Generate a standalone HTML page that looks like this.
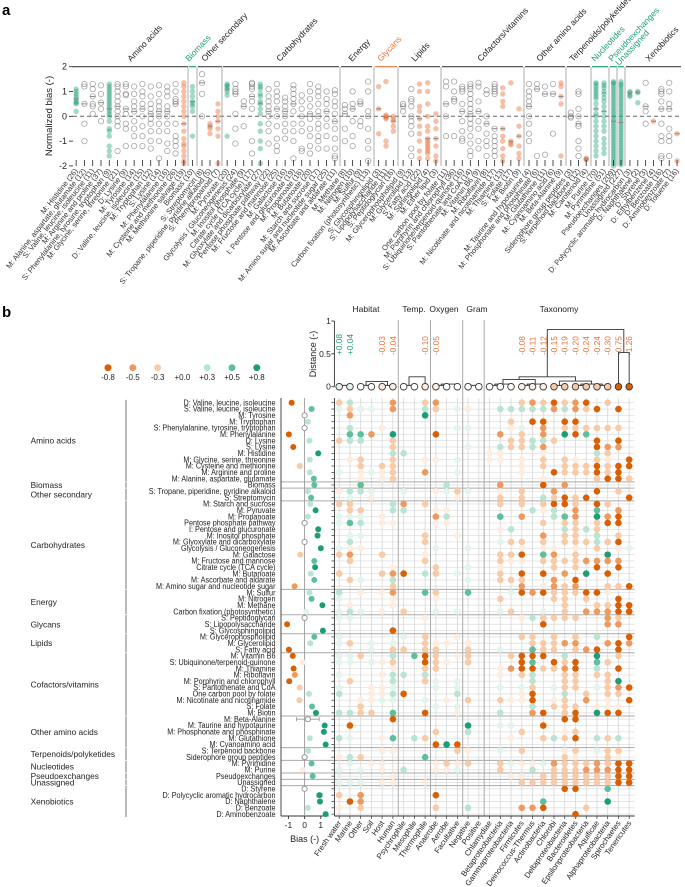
<!DOCTYPE html>
<html><head><meta charset="utf-8">
<style>
html,body{margin:0;padding:0;background:#fff;}
svg{display:block;font-family:"Liberation Sans",Arial,sans-serif;}
</style></head>
<body>
<svg id="fig" width="685" height="887" viewBox="0 0 685 887" xmlns="http://www.w3.org/2000/svg">
<text x="2" y="15" font-size="15" font-weight="bold">a</text>
<text x="2" y="317" font-size="15" font-weight="bold">b</text>
</svg>
<script>
// ===== Panel a data =====
const paGroupNames = ["Amino acids","Biomass","Other secondary","Carbohydrates","Energy","Glycans","Lipids","Cofactors/vitamins","Other amino acids","Terpenoids/polyketides","Nucleotides","Pseudoexchanges","Unassigned","Xenobiotics"];
const paGroupCounts = [14,1,3,14,4,3,5,10,5,3,2,1,1,7];
const paGroupColor = ["k","t","k","k","k","o","k","k","k","k","t","t","t","k"];
const paTypes = "tgggtggggggggo"+"t"+"goo"+"tgggtggggggggg"+"gggg"+"ooo"+"ggooo"+"gggggggooo"+"ggggo"+"ggo"+"tt"+"t"+"t"+"ttgoggo";
const paLabels = ["M: Histidine (26)","M: Alanine, aspartate, glutamate (12)","S: Valine, leucine, isoleucine (11)","M: Arginine and proline (37)","S: Phenylalanine, tyrosine, tryptophan (9)","M: Glycine, serine, threonine (21)","D: Lysine (9)","M: Tyrosine (14)","D: Valine, leucine, isoleucine (15)","M: Tryptophan (12)","S: Lysine (14)","M: Phenylalanine (16)","M: Cysteine and methionine (26)","M: Methionine salvage (19)",
"Biomass (10)",
"S: Streptomycin (8)","S: Tropane, piperidine, pyridine alkaloid (5)","S: Phenylpropanoid (7)",
"M: Pyruvate (20)","Glycolysis / Gluconeogenesis (24)","M: Inositol phosphate (9)","Citrate cycle (TCA cycle) (17)","M: Glyoxylate and dicarboxylate (27)","Pentose phosphate pathway (22)","M: Fructose and mannose (25)","M: Galactose (16)","I: Pentose and glucuronate (19)","M: Propanoate (16)","M: Butanoate (20)","M: Starch and sucrose (17)","M: Amino sugar and nucleotide sugar (25)","M: Ascorbate and aldarate (11)",
"M: Methane (8)","M: Nitrogen (10)","M: Sulfur (9)","Carbon fixation (photosynthetic) (13)",
"S: Glycosphingolipid (3)","S: Lipopolysaccharide (11)","S: Peptidoglycan (16)",
"M: Glycerophospholipid (9)","M: Glycerolipid (13)","S: Fatty acid (22)","M: Sphingolipid (4)","M: Ether lipid (3)",
"One carbon pool by folate (11)","M: Porphyrin and chlorophyll (36)","S: Ubiquinone/terpenoid-quinone (16)","S: Pantothenate and CoA (14)","M: Vitamin B6 (9)","M: Riboflavin (8)","M: Nicotinate and nicotinamide (17)","M: Thiamine (13)","S: Folate (17)","M: Biotin (9)",
"M: Taurine and hypotaurine (4)","M: Phosphonate and phosphinate (6)","M: Glutathione (11)","M: Cyanoamino acid (6)","M: Beta-Alanine (9)",
"Siderophore group peptides (3)","S: Terpenoid backbone (12)","M: Carotenoid (4)",
"M: Purine (70)","M: Pyrimidine (51)",
"Pseudoexchanges (209)","Unassigned (227)",
"D: Polycyclic aromatic hydrocarbon (3)","D: Naphthalene (2)","D: Styrene (3)","D: Ethylbenzene (4)","D: Benzoate (16)","D: Aminobenzoate (7)","D: Toluene (16)"];
const paVals = [
[1.1,1.0,0.9,0.8,0.7,0.6,0.55,0.5,0.2],[1.3,1.2,0.5,-0.3,-1.0],[1.3,1.1,0.8,0.5,0.4,0.1],[1.25,0.9,0.55,0.3,-0.2],
[1.3,1.2,1.1,1.0,0.9,0.8,0.7,0.6,0.5,0.4,0.3,0.2,0.1,0,-0.2,-0.5,-0.6,-0.8,-1.2,-1.4,-1.6],
[1.3,1.2,1.0,0.8,0.6,0.4,0.2,0,-0.2,-0.4,-1.4],[1.3,1.2,0.9,0.85,0.3,0.1,-0.3,-0.5,-1.2],[1.2,0.9,0.6,0.4,0.2,-0.2,-0.5,-0.8,-1.2],
[1.3,1.0,0.8,0.5,0.3,0,-0.4,-0.8,-1.2],[1.2,0.8,0.5,0.3,0.1,-0.1,-0.3,-0.6,-1.0,-1.3],[1.25,0.9,0.6,0.4,0.2,0,-0.3,-0.6,-1.0,-1.7],
[1.2,1.0,0.8,0.4,0.2,0,-0.3,-0.6,-1.1,-1.4],[1.3,1.0,0.7,0.6,0.5,-0.3,-0.8,-1.0,-1.2,-1.5],
[1.35,1.2,1.0,0.8,0.6,0.4,0.2,0,-0.3,-0.6,-0.9,-1.1,-1.2,-1.4,-1.6,-1.8,-1.9],
[1.2,1.0,0.8,0.6,0.5,0.4,0.2,-0.8],
[1.7,1.35,0.9,0],[-0.3,-0.5,-0.7,-0.4],[0.5,0.2,0,-0.2,-0.5,-0.8,-1.9],
[1.3,1.25,1.2,1.1,1.0,0.85,-0.8],[1.3,1.1,1.0,0.9,0.1,-0.5,-1.1],[0.6,0.4,-0.4],[1.35,1.3,1.2,1.1,0.8,0.6,0.3,-1.0,-1.5],
[1.3,1.2,1.1,0.9,0.8,0.6,0.5,0.3,0.1,-0.3,-0.6,-1.0,-1.3,-1.9],[1.1,0.8,0.6,0.4,0.2,0,-0.3,-0.6,-1.1],
[1.3,1.0,0.8,0.6,0.3,0,-0.4,-0.9,-1.2,-1.4],[0.75,0.6,0.4,0.2,0,-0.3,-0.6,-0.9],[1.25,1.1,0.9,0.7,0.5,0.2,-0.3,-0.6,-1.0,-1.7],
[0.85,0.6,0.3,0,-0.3,-0.6,-1.3,-1.4],[1.3,1.0,0.7,0.4,0.1,-0.1,-0.5,-0.8,-1.2,-1.5],[1.2,1.0,0.8,0.5,0.2,0,-0.3,-0.5,-0.8,-1.0,-1.3],
[1.0,0.7,0.5,0.2,-0.1,-0.4,-0.8,-1.3],[1.05,0.9,0.6,0.4,0.1,-0.2,-0.5,-0.9,-1.3,-1.6,-1.7],
[0.45,0.3,0.1,-0.5,-1.0],[1.0,0.5,0.3,-0.2,-0.8,-1.2],[0.6,0.5,-0.2,-0.4],[1.4,1.0,0.2,0,-0.5,-1.0,-1.3,-1.8],
[1.2,0.3,-0.7],[1.4,0.05,0,-0.05,-0.1,-1.0,-1.2],[0,-0.1,-0.2,-0.4,-0.6],
[0.5,0.4,0.2],[1.1,0.7,0.6,0.4,0,-0.2,-0.4,-0.7,-1.3,-1.6],[1.3,1.0,0.4,0.2,-0.1,-0.4,-0.7,-1.0,-1.4,-1.7],
[1.35,1.0,0.5,0,-0.4,-0.6,-0.9,-1.0,-1.1,-1.2,-1.3,-1.4,-1.5,-1.7],[0.1,-0.2,-0.5,-0.9,-1.2,-1.6,-1.8],
[1.4,1.2,0.5,0,-0.8],[1.4,1.0,0.7,0.6,-0.8],[1.2,1.1,1.0,0.5,0.2,-0.2,-0.6,-0.9,-1.0],
[1.3,1.2,1.1,0.9,0.7,0.5,0.3,0.1,-0.1,-0.3,-0.5,-0.8,-1.1,-1.4,-1.6],[1.35,1.2,0.6,0.2,-0.2,-0.5,-1.0,-1.3],
[1.05,0.9,0,-0.3,-0.7,-1.0,-1.2,-1.6],[1.3,1.2,1.1,1.0,0.9,-0.5,-0.8,-1.0,-1.2,-1.4,-1.6],
[1.15,0.9,0.6,0.4,-0.5,-0.8,-1.0,-1.3,-1.6,-1.8],[1.35,-1.0,-1.1,-1.15],[0.3,-0.4,-0.8,-1.2,-1.5,-1.7],
[1.3,1.0,0.8,0.6,0.4,0,-0.3,-0.7,-1.0],[1.3,1.1,-1.6],[1.2,0.9,-1.55],[1.3,0.9,-0.7],[1.35,1.2,0.8,0.5,-1.6],
[0.15,0,-0.05],[1.0,0.9,0.3,0,-0.3,-0.4,-1.0,-1.3,-1.6],[-1.7,-1.75,-1.72],
[1.35,1.3,1.2,1.1,1.0,0.9,0.8,0.7,0.5,0.3,0.1,0,-0.2,-0.4,-0.6,-0.8,-1.0,-1.2,-1.4,-1.6],
[1.35,1.25,1.15,1.0,0.9,0.75,0.6,0.4,0.2,0,-0.2,-0.4,-0.6,-0.9,-1.1,-1.3,-1.5],
[1.4,1.35,1.3,1.2,1.1,1.0,0.9,0.8,0.7,0.6,0.5,0.4,0.3,0.2,0.1,0,-0.1,-0.2,-0.3,-0.4,-0.5,-0.6,-0.7,-0.8,-0.9,-1.0,-1.1,-1.2,-1.3,-1.4,-1.5,-1.6,-1.7,-1.8,-1.9,-2.0],
[1.4,1.3,1.25,1.15,1.05,0.95,0.85,0.75,0.65,0.55,0.45,0.35,0.25,0.15,0.05,-0.05,-0.15,-0.25,-0.35,-0.45,-0.55,-0.65,-0.75,-0.85,-0.95,-1.05,-1.15,-1.25,-1.35,-1.45,-1.55,-1.65,-1.75,-1.85,-1.95],
[1.0,0.95,0.85,0.8],[1.0,0.95,0.55],[1.35,0.4,0.2,-0.3],[-0.2],[1.1,1.0,0.9,0.6,0.3,-0.3,-0.8,-1.0,-1.6,-1.7],
[1.35,1.0,0.5,0.3,-0.5,-0.8,-1.0,-1.6],[-0.7,-1.8]
];

// ===== Panel b data =====
const rowLabels = ["D: Valine, leucine, isoleucine","S: Valine, leucine, isoleucine","M: Tyrosine","M: Tryptophan","S: Phenylalanine, tyrosine, tryptophan","M: Phenylalanine","D: Lysine","S: Lysine","M: Histidine","M: Glycine, serine, threonine","M: Cysteine and methionine","M: Arginine and proline","M: Alanine, aspartate, glutamate",
"Biomass","S: Tropane, piperidine, pyridine alkaloid","S: Streptomycin",
"M: Starch and sucrose","M: Pyruvate","M: Propanoate","Pentose phosphate pathway","I: Pentose and glucuronate","M: Inositol phosphate","M: Glyoxylate and dicarboxylate","Glycolysis / Gluconeogenesis","M: Galactose","M: Fructose and mannose","Citrate cycle (TCA cycle)","M: Butanoate","M: Ascorbate and aldarate","M: Amino sugar and nucleotide sugar",
"M: Sulfur","M: Nitrogen","M: Methane","Carbon fixation (photosynthetic)",
"S: Peptidoglycan","S: Lipopolysaccharide","S: Glycosphingolipid",
"M: Glycerophospholipid","M: Glycerolipid","S: Fatty acid",
"M: Vitamin B6","S: Ubiquinone/terpenoid-quinone","M: Thiamine","M: Riboflavin","M: Porphyrin and chlorophyll","S: Pantothenate and CoA","One carbon pool by folate","M: Nicotinate and nicotinamide","S: Folate","M: Biotin",
"M: Beta-Alanine","M: Taurine and hypotaurine","M: Phosphonate and phosphinate","M: Glutathione","M: Cyanoamino acid",
"S: Terpenoid backbone","Siderophore group peptides","M: Pyrimidine","M: Purine","Pseudoexchanges","Unassigned",
"D: Styrene","D: Polycyclic aromatic hydrocarbon","D: Naphthalene","D: Benzoate","D: Aminobenzoate"];
const groupNames = ["Amino acids","Biomass","Other secondary","Carbohydrates","Energy","Glycans","Lipids","Cofactors/vitamins","Other amino acids","Terpenoids/polyketides","Nucleotides","Pseudoexchanges","Unassigned","Xenobiotics"];
const groupSizes = [13,1,2,14,4,3,3,10,5,2,2,1,1,5];
const colLabels = ["Fresh water","Marine","Other","Soil","Host","Human","Psychrophile","Mesophile","Thermophile","Anaerobe","Aerobe","Facultative","Negative","Positive","Chlamydiae","Betaproteobacteria","Gammaproteobacteria","Firmicutes","Deinococcus-Thermus","Actinobacteria","Chlorobi","Deltaproteobacteria","Bacteroidetes","Epsilonproteobacteria","Aquificae","Alphaproteobacteria","Spirochaetes","Tenericutes"];
// codes: a=-0.8 b=-0.5 c=-0.3 d=-0.1 e=+0.1 f=+0.3 g=+0.5 h=+0.8 .=none
const codeValues = {a:-0.8,b:-0.5,c:-0.3,d:-0.1,e:0.1,f:0.3,g:0.5,h:0.8};
const cellCodes = [
"cf...b..cb.......cbcacba.c..","ecee.b..fc.ed..fffffbfbca.a.",".b......h...................","................c.aa.aa.....",".f..d......ee...de.b.cccccc.",".ggb.h...a.....b.c.b.hag....","cff..c..........ccffc...a.a.",".....c......e..fccfb....abb.",".....ff.......dd...d....fc..",".dc..c..dd.e..dd.d.c.cd.cd.a","..c.cc...........d.c.cccacaa","e.dedc..b..e.....d..acccaca.","..d.dc.............d....caac",
"..g.......f....b...a.b......","dffe..e..dece..d.c..b...a.c.",".e.d.......d...c.c.fcaca...a",
"cc...fb.c......c.c.caac.ac..",".cc..ff..dd.......fdf.b.g.b.","eee.d....bf....g.b..fgb.hba.","egf.dd...dd........c.cc.caa.","...............df....fcfc...",".ee.....c..d.......b.cc.f.c.",".f......c......ecc.c.cccfca.","edd......e..e....d.dd.d.c.de","cb..c...d......cca.gb.c..h..",".c......c......cdd.ccccbbbb.",".....d...c..e..d....c.c.a.a.","c...cba.fc.e...c.a.a.b.h.a..",".ce..f......e..ccc..b.a.....",".....c...........b.dbcb..cca",
"f.d.db..gc..g...eabacccaad..","e....d...d.....c....cc.c..a.",".d...d...............c..ccaa","efe.d.c..e.e...ec..e.c.bbbaa",
"ee......d........dfcccc..bc.","...................a.....bb.",".....a......................",
"e.....e.c..d.....cc.c.c.f..a","ec.e.e..cdd.d.....cccbb..bab","...e.cc.cc..c..e..gcc.cba.a.",
"eec..f.gac.dc...caaa.f..h.c.","ee.edc..acd.c....ag.aca.gc..",".....d..cc.....dbaaccba.f.a.","e...dff.f......d.cf..cc.cc..",".c...f..ce.e......f..cc..ch.","e..dde...e.e...e.ec.ecc.ecba","f..ddfa....f.....da..f.c.cc.","..ddee..e.d.c..cdda.dc.b.d.a","..c......e.e......f.ccc.ddd.","ffcc.g..a..d...f..ba.ca.haa.",
".....a...............aa.....",".a..........h..ee..a........",".........c..f....c...dc.....","fe..dg.fc.......d..cfca.fcf.",".........aha................",
"....dd.....cd..e.c...dc.ecc.","dfc.....g............cd..cd.",".e.dd....dcdc..ceddebcccbcaa","e.e.d.f..dde...c..f.cccbbbaa",".....d..........dd.cccccccaa","eee.dd..d........cccccccccaa",
".....................aa..g..","c.b......a..................",".ab................g.....h..","d.c......c..f....bba...c....","......................a....."];
const biasValues = [-0.8,0.43,0,0.2,0,-0.97,0.3,-0.7,0.84,0.32,-0.3,0.32,0.57,
0.6,0.2,0.4,
0.35,0.68,0.2,0,0.84,0.8,0,1.0,-0.27,0.6,0.65,0.38,0.6,-0.62,
0.3,0.43,1.1,0.1,
0,-1.08,1.13,
0.6,0.35,-0.97,
-0.73,-0.1,-0.68,-0.6,-0.95,-0.3,0.27,-0.32,0.46,0.7,
0.2,1.24,1.19,0.32,1.3,
0.22,0,0.43,-0.1,0.5,null,
0,0.92,0.95,0.2,1.3];
const biasSignificant = [1,1,0,1,0,1,1,1,1,1,1,1,1, 1,1,1, 1,1,1,0,1,1,0,1,1,1,1,1,1,1, 1,1,1,1, 0,1,1, 1,1,1, 1,1,1,1,1,1,1,1,1,1, 0,1,1,1,1, 1,0,1,1,1,0, 0,1,1,1,1];
const biasErr = [0.12,0.1,0.1,0.1,0.1,0.12,0.1,0.1,0.1,0.1,0.1,0.1,0.1, 0.1,0.1,0.1, 0.1,0.1,0.1,0.1,0.1,0.1,0.1,0.1,0.1,0.1,0.1,0.1,0.1,0.1, 0.1,0.1,0.1,0.1, 0.1,0.1,0.1, 0.1,0.1,0.1, 0.1,0.1,0.1,0.1,0.1,0.1,0.1,0.1,0.1,0.1, 0.7,0.1,0.1,0.1,0.1, 0.1,0.1,0.1,0.1,0.1,0.1, 0.12,0.15,0.12,0.1,0.1];
const leafValues = [0.08,0.04,0,0,-0.03,-0.04,0,0,-0.10,-0.05,0,0,0,0,0,0,0,-0.08,-0.11,-0.12,-0.15,-0.19,-0.20,-0.24,-0.24,-0.30,-0.75,-1.26];
const leafLabels = ["+0.08","+0.04","","","-0.03","-0.04","","","-0.10","-0.05","","","","","","","","-0.08","-0.11","-0.12","-0.15","-0.19","-0.20","-0.24","-0.24","-0.30","-0.75","-1.26"];
// dendrogram links: [left leaf pos, right leaf pos, height, left child height, right child height]
const dendroLinks = [[0,1,0.02,0,0],[2,3,0.02,0,0],[4,5,0.02,0,0],[2.5,4.5,0.08,0.02,0.02],
[6,7,0.02,0,0],[6.5,8,0.15,0.02,0],[9,10,0.02,0,0],[9.5,11,0.04,0.02,0],[12,13,0.02,0,0],
[14,15,0.02,0,0],[14.5,16,0.04,0.02,0],[17,18,0.02,0,0],[17.5,19,0.04,0.02,0],[15.25,18.25,0.11,0.04,0.04],
[20,21,0.02,0,0],[22,23,0.02,0,0],[24,25,0.02,0,0],[22.5,24.5,0.04,0.02,0.02],[20.5,23.5,0.086,0.02,0.04],
[16.75,22,0.15,0.11,0.086],[26,27,0.52,0,0],[19.375,26.5,0.87,0.15,0.52]];
const legendValues = [-0.8,-0.5,-0.3,0.0,0.3,0.5,0.8];
const legendLabels = ["-0.8","-0.5","-0.3","+0.0","+0.3","+0.5","+0.8"];
const colHeaders = ["Habitat","Temp.","Oxygen","Gram","Taxonomy"];

// ===== helpers =====
const NS = "http://www.w3.org/2000/svg";
const svg = document.getElementById('fig');
function mk(tag, attrs, parent){
  const el = document.createElementNS(NS, tag);
  for (const k in attrs) el.setAttribute(k, attrs[k]);
  (parent||svg).appendChild(el);
  return el;
}
function colorFor(v){
  if (v <= -0.65) return '#d95f02';
  if (v <= -0.4) return '#ee9a5f';
  if (v <= -0.15) return '#f7cba8';
  if (v < 0) return '#fdece0';
  if (v === 0) return '#ffffff';
  if (v < 0.15) return '#e3f4ec';
  if (v < 0.4) return '#b9e3d3';
  if (v < 0.65) return '#5fbf9c';
  return '#1b9e77';
}

// ===== Panel a =====
const aY = v => 116.3 - v*24.8;
const paSpans = [[72,188],[189,196],[198,222],[223,339],[341,372],[375,397],[399,440],[442,523],[525,565],[567,590],[592,608],[610,617],[618,624],[626,681]];
const paHeaderPos = [[131,62],[189,62],[205,62],[280,62],[352,62],[381,62],[415,62],[481,62],[540,62],[573,62],[595,62],[612,62],[619,66],[649,62]];
const gA = mk('g',{});


// y axis
[2,1,0,-1,-2].forEach(t=>{
  const tk = mk('line',{x1:69,x2:73,y1:aY(t),y2:aY(t),stroke:'#222','stroke-width':0.8},gA);
  
  
  const tl = mk('text',{x:67,y:aY(t)+3,'font-size':9,'text-anchor':'end',fill:'#222'},gA);
  
  
  tl.textContent = t;
});
const ytitle = mk('text',{x:0,y:0,'font-size':9.5,'text-anchor':'middle',transform:'translate(52,116) rotate(-90)',fill:'#222'},gA);


ytitle.textContent = 'Normalized bias (-)';
const zl = mk('line',{x1:73,x2:681,y1:aY(0),y2:aY(0),stroke:'#666','stroke-dasharray':'4,3','stroke-width':1},gA);


let ci = 0;
paGroupNames.forEach((gname,gi)=>{
  const [s,e] = paSpans[gi];
  const gc = paGroupColor[gi]==='t' ? '#1b9e77' : paGroupColor[gi]==='o' ? '#e8743b' : '#444';
  const tl = mk('line',{x1:s,x2:e,y1:66.7,y2:66.7,stroke:gc,'stroke-width':1.2},gA);
  
  
  if (gi>0){
    const sep = mk('line',{x1:s-1,x2:s-1,y1:66.7,y2:166,stroke:'#999','stroke-width':0.8},gA);
    
    
  }
  const [hx,hy] = paHeaderPos[gi];
  const ht = mk('text',{x:0,y:0,'font-size':8.5,fill:gc==='#444'?'#222':gc,transform:`translate(${hx},${hy}) rotate(-47)`},gA);
  
  
  ht.textContent = gname;
  const n = paGroupCounts[gi];
  const step = (e-s)/n;
  for (let k=0;k<n;k++){
    const x = s + step*(k+0.5);
    const typ = paTypes[ci];
    const vals = paVals[ci];
    const col = mk('g',{},gA);
    
    
    vals.forEach(v=>{
      let attrs = {cx:x,cy:aY(v),r:2.7};
      if (typ==='g'){ attrs.fill='none'; attrs.stroke='#777'; attrs['stroke-opacity']=0.65; attrs['stroke-width']=0.8; }
      else if (typ==='t'){ attrs.fill='#1b9e77'; attrs['fill-opacity']=0.4; }
      else { attrs.fill='#e8743b'; attrs['fill-opacity']=0.45; }
      const c = mk('circle',attrs,col);
      
      
    });
    const sorted = vals.slice().sort((a,b)=>a-b);
    const med = sorted[Math.floor(sorted.length/2)];
    const md = mk('line',{x1:x-2.5,x2:x+2.5,y1:aY(med),y2:aY(med),stroke:'#888','stroke-width':1},col);
    
    
    const bt = mk('line',{x1:x,x2:x,y1:160,y2:166,stroke:'#222','stroke-width':0.8},gA);
    
    
    const lb = mk('text',{x:0,y:0,'font-size':7.6,'text-anchor':'end',fill:'#333',transform:`translate(${x+2},${171}) rotate(-52)`},gA);
    
    
    lb.textContent = paLabels[ci];
    ci++;
  }
});

// ===== Panel b =====
const rowY = i => 402.7 + i*6.33;
const colX = j => 339.2 + j*10.74;
const bX = v => 304.6 + v*16.2;
const dY = h => 386.7 - h*65.7;
const HM_L = 334.4, HM_R = 634.6, HM_T = 398, HM_B = 816;
const gB = mk('g',{});



// legend
legendValues.forEach((v,i)=>{
  const x = 108 + i*24.8;
  if (v!==0){
    const c = mk('circle',{cx:x,cy:367.7,r:3.5,fill:colorFor(v)},gB);
    
    
  }
  const t = mk('text',{x:x,y:380,'font-size':8,'text-anchor':'middle',fill:'#222'},gB);
  
  
  t.textContent = legendLabels[i];
});

// heatmap grid
const grid = mk('g',{},gB);


rowLabels.forEach((_,i)=>{
  const l = mk('line',{x1:HM_L,x2:HM_R,y1:rowY(i),y2:rowY(i),stroke:'#e4e4e4','stroke-width':0.9},grid);
  
  
});
colLabels.forEach((_,j)=>{
  const l = mk('line',{x1:colX(j),x2:colX(j),y1:HM_T,y2:HM_B,stroke:'#d6d6d6','stroke-width':0.8},grid);
  
  
});
[5.5,8.5,11.5,13.5].forEach(p=>{
  const l = mk('line',{x1:colX(p),x2:colX(p),y1:320,y2:HM_B,stroke:'#aaa','stroke-width':1},grid);
  
  
});

// column headers
[[colHeaders[0],366],[colHeaders[1],414],[colHeaders[2],444],[colHeaders[3],477],[colHeaders[4],559]].forEach(([t,x])=>{
  const el = mk('text',{x:x,y:312,'font-size':8.5,'text-anchor':'middle',fill:'#222'},gB);
  
  
  el.textContent = t;
});

// group separators (rows) + left group labels
let start = 0;
groupNames.forEach((g,gi)=>{
  const n = groupSizes[gi];
  const end = start + n - 1;
  const gl = mk('text',{x:30.6,y:(rowY(start)+rowY(end))/2+3,'font-size':8.3,fill:'#222'},gB);
  
  
  gl.textContent = g;
  const bar = mk('line',{x1:126,x2:126,y1:rowY(start)-2.8,y2:rowY(end)+2.8,stroke:'#666','stroke-width':0.9},gB);
  
  
  if (gi < groupNames.length-1){
    const y = (rowY(end)+rowY(end+1))/2;
    const s = mk('line',{x1:281,x2:HM_R,y1:y,y2:y,stroke:'#aaa','stroke-width':1},gB);
    
    
  }
  start += n;
});

// row labels
const rl = mk('g',{transform:'translate(275.5,0) scale(0.93,1)'},gB);


rowLabels.forEach((t,i)=>{
  const el = mk('text',{x:0,y:rowY(i)+2.7,'font-size':7.8,'text-anchor':'end',fill:'#222'},rl);
  
  
  el.textContent = t;
});

// bias panel axes
const bAx = mk('g',{},gB);


mk('line',{x1:281,x2:281,y1:HM_T,y2:HM_B,stroke:'#333','stroke-width':0.9},bAx);
mk('line',{x1:281,x2:328.5,y1:HM_B,y2:HM_B,stroke:'#333','stroke-width':0.9},bAx);
mk('line',{x1:bX(0),x2:bX(0),y1:HM_T,y2:HM_B,stroke:'#999','stroke-width':0.9},bAx);
[-1,0,1].forEach(t=>{
  mk('line',{x1:bX(t),x2:bX(t),y1:HM_B,y2:HM_B+3,stroke:'#333','stroke-width':0.9},bAx);
  const tl = mk('text',{x:bX(t),y:HM_B+12,'font-size':8.5,'text-anchor':'middle',fill:'#222'},bAx);
  
  
  tl.textContent = t;
});
const bt2 = mk('text',{x:bX(0),y:842,'font-size':9,'text-anchor':'middle',fill:'#222'},bAx);


bt2.textContent = 'Bias (-)';

// bias points
biasValues.forEach((v,i)=>{
  if (v===null) return;
  const y = rowY(i), x = bX(v), e = biasErr[i]*16.2;
  const sig = biasSignificant[i];
  const col = sig ? colorFor(v) : '#999';
  const g = mk('g',{},gB);
  
  
  mk('line',{x1:x-e,x2:x+e,y1:y,y2:y,stroke:col,'stroke-width':0.9},g);
  mk('line',{x1:x-e,x2:x-e,y1:y-2,y2:y+2,stroke:col,'stroke-width':0.9},g);
  mk('line',{x1:x+e,x2:x+e,y1:y-2,y2:y+2,stroke:col,'stroke-width':0.9},g);
  if (sig) mk('circle',{cx:x,cy:y,r:3,fill:col},g);
  else mk('circle',{cx:x,cy:y,r:2.6,fill:'#fff',stroke:'#999','stroke-width':1},g);
});

// heatmap axes
const hAx = mk('g',{},gB);


mk('line',{x1:HM_L,x2:HM_L,y1:HM_T,y2:HM_B,stroke:'#333','stroke-width':0.9},hAx);
mk('line',{x1:HM_L,x2:HM_R,y1:HM_B,y2:HM_B,stroke:'#333','stroke-width':0.9},hAx);
rowLabels.forEach((_,i)=>{ mk('line',{x1:HM_L-3,x2:HM_L,y1:rowY(i),y2:rowY(i),stroke:'#333','stroke-width':0.7},hAx); });
colLabels.forEach((t,j)=>{
  mk('line',{x1:colX(j),x2:colX(j),y1:HM_B,y2:HM_B+3,stroke:'#333','stroke-width':0.7},hAx);
  const el = mk('text',{x:0,y:0,'font-size':7.8,'text-anchor':'end',fill:'#222',transform:`translate(${colX(j)+2.5},${HM_B+7}) rotate(-55)`},hAx);
  
  
  el.textContent = t;
});

// heatmap cells
const cells = mk('g',{},gB);


cellCodes.forEach((row,i)=>{
  for (let j=0;j<colLabels.length;j++){
    const ch = row[j];
    if (!ch || !(ch in codeValues)) continue;
    const v = codeValues[ch];
    const c = mk('circle',{cx:colX(j),cy:rowY(i),r:3.3,fill:colorFor(v)},cells);
    
    
  }
});

// dendrogram axis
const dAx = mk('g',{},gB);


mk('line',{x1:HM_L,x2:HM_L,y1:dY(1),y2:dY(0),stroke:'#333','stroke-width':0.9},dAx);
[[0,'0'],[0.5,'0.5'],[1,'1']].forEach(([h,t])=>{
  mk('line',{x1:HM_L-3,x2:HM_L,y1:dY(h),y2:dY(h),stroke:'#333','stroke-width':0.9},dAx);
  const tl = mk('text',{x:HM_L-3.5,y:dY(h)+3,'font-size':8.5,'text-anchor':'end',fill:'#222'},dAx);
  
  
  tl.textContent = t;
});
const dt = mk('text',{x:0,y:0,'font-size':9,'text-anchor':'middle',fill:'#222',transform:'translate(316,354) rotate(-90)'},dAx);


dt.textContent = 'Distance (-)';

// dendrogram links
const dg = mk('g',{},gB);


dendroLinks.forEach(([l,r,h,hl,hr])=>{
  const p = mk('path',{d:`M${colX(l)},${dY(hl)} V${dY(h)} H${colX(r)} V${dY(hr)}`,fill:'none',stroke:'#333','stroke-width':0.9},dg);
  
  
});
// leaves + labels
leafValues.forEach((v,j)=>{
  const c = mk('circle',{cx:colX(j),cy:dY(0),r:3.3,fill:colorFor(v),stroke:'#333','stroke-width':0.9},dg);
  
  
  if (leafLabels[j]){
    const t = mk('text',{x:0,y:0,'font-size':8.3,fill:v>0?'#1b9e77':'#e8743b',transform:`translate(${colX(j)+3},355) rotate(-90)`},dg);
    
    
    t.textContent = leafLabels[j];
  }
});
</script>
</body></html>
